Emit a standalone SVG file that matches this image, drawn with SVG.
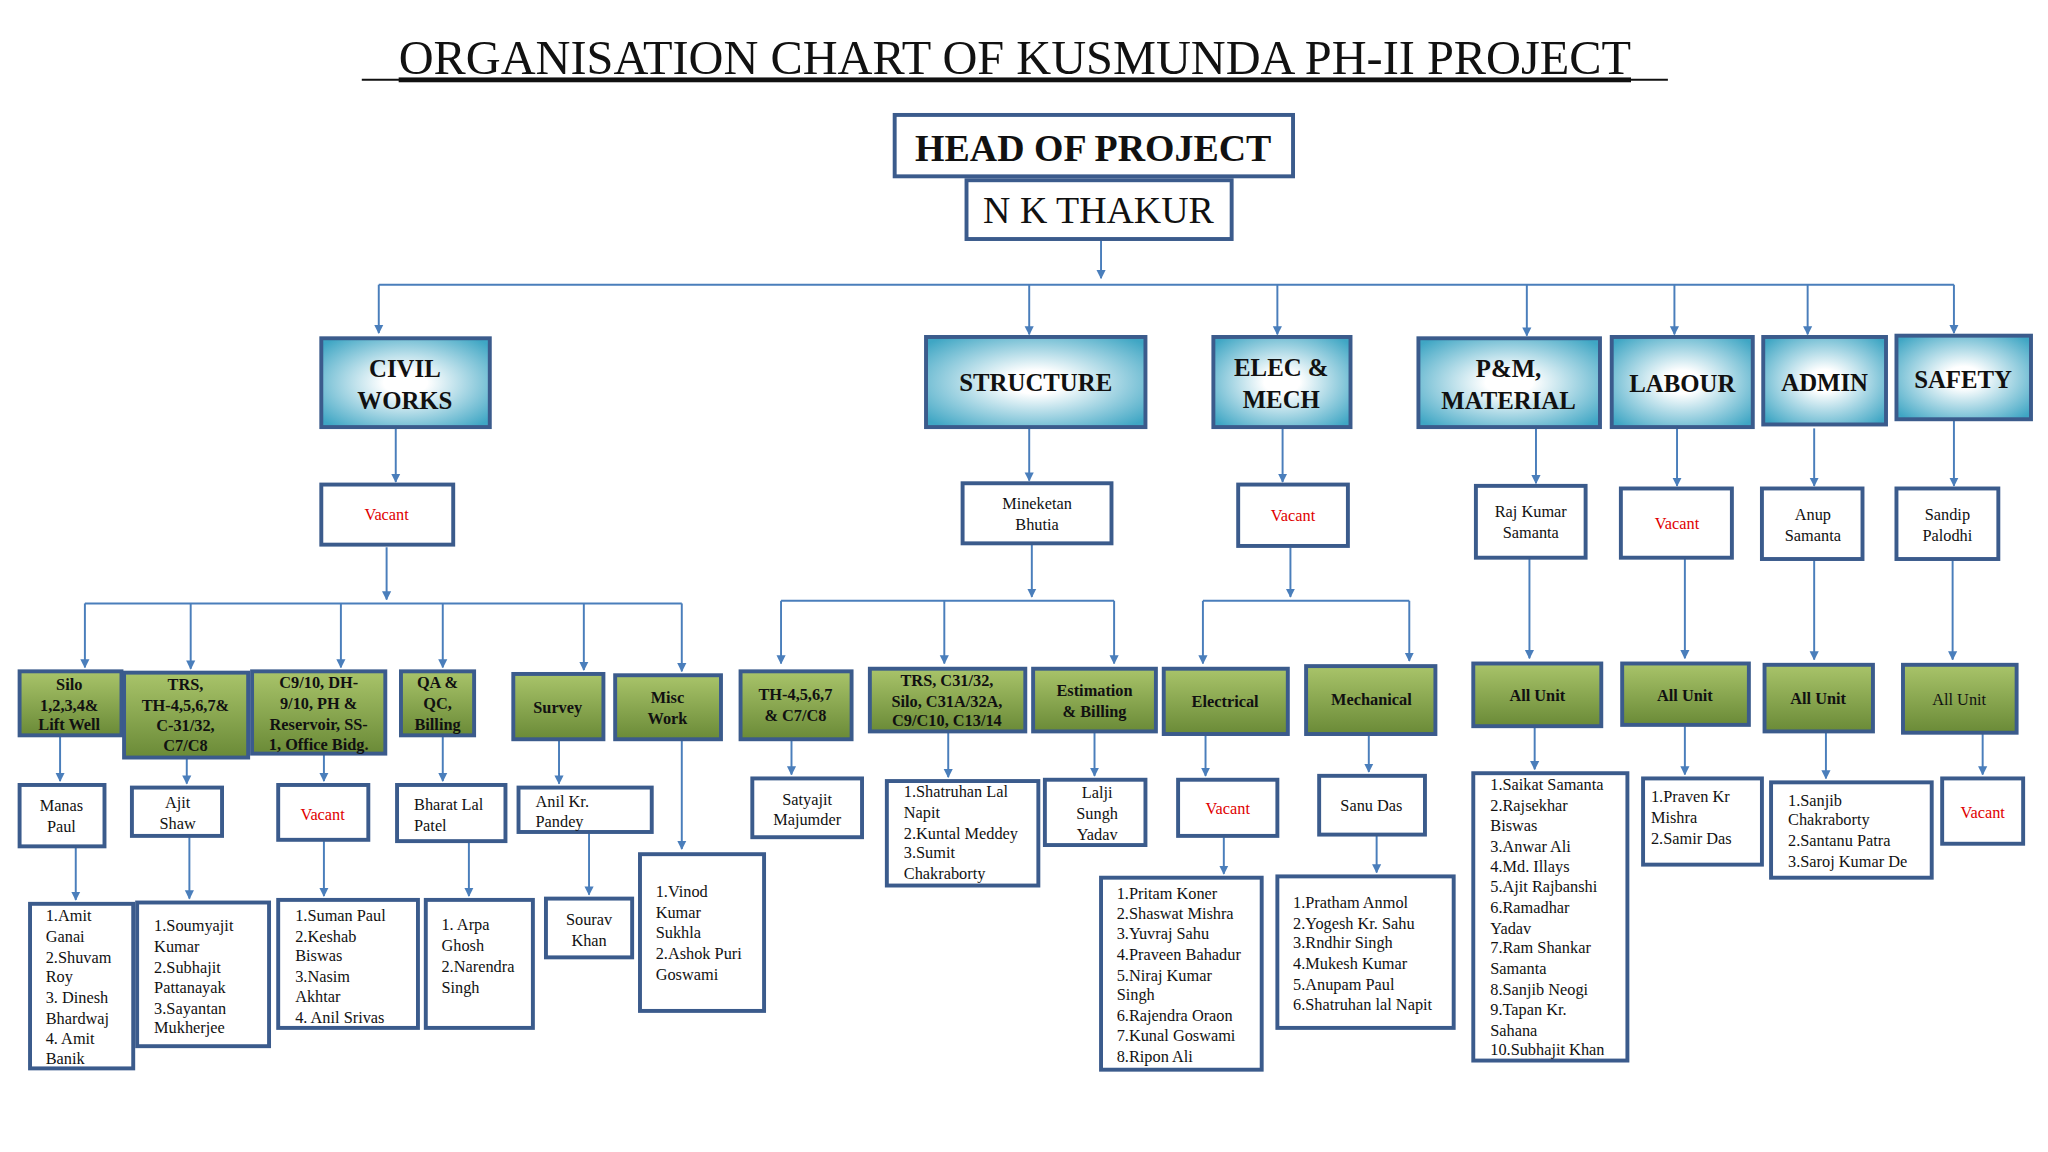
<svg xmlns="http://www.w3.org/2000/svg" width="2048" height="1152" viewBox="0 0 2048 1152">
<defs>
<radialGradient id="dg" cx="50%" cy="50%" r="65%"><stop offset="0.2" stop-color="#ffffff"/><stop offset="1" stop-color="#3fa6c4"/></radialGradient>
<linearGradient id="gg" x1="0" y1="0" x2="0" y2="1"><stop offset="0" stop-color="#a9c46a"/><stop offset="1" stop-color="#6a8a37"/></linearGradient>
<marker id="ar" viewBox="0 0 10 10" refX="9" refY="5" markerWidth="7" markerHeight="9" markerUnits="userSpaceOnUse" orient="auto"><path d="M0,0L10,5L0,10z" fill="#4a7ebb"/></marker>
</defs>
<style>
text{font-family:"Liberation Serif","Times New Roman",serif;fill:#111}
.b{stroke:#3b5b8c;stroke-width:3}
.d{fill:url(#dg)}
.g{fill:url(#gg)}
.w{fill:#fff}
.dt{font-size:19px;font-weight:bold;text-anchor:middle}
.gt{font-size:12.5px;font-weight:bold;text-anchor:middle}
.t{font-size:12.5px}
.c{text-anchor:middle}
.r{fill:#e00000}
.cn line,.cn polyline{stroke:#4a7ebb;stroke-width:1.5;fill:none}
.a{marker-end:url(#ar)}
</style>
<rect width="2048" height="1152" fill="#fff"/>
<g transform="scale(1.3061)">
<text x="777" y="57" font-size="37" text-anchor="middle" text-decoration="underline">ORGANISATION CHART OF KUSMUNDA PH-II PROJECT</text>
<line x1="277" y1="61" x2="1277" y2="61" stroke="#111" stroke-width="1.5"/>

<g class="cn">
<line class="a" x1="843" y1="184" x2="843" y2="213"/>
<line x1="290" y1="218" x2="1496" y2="218"/>
<line class="a" x1="290" y1="218" x2="290" y2="255"/>
<line class="a" x1="788" y1="218" x2="788" y2="256"/>
<line class="a" x1="978" y1="218" x2="978" y2="256"/>
<line class="a" x1="1169" y1="218" x2="1169" y2="257"/>
<line class="a" x1="1282" y1="218" x2="1282" y2="256"/>
<line class="a" x1="1384" y1="218" x2="1384" y2="256"/>
<line class="a" x1="1496" y1="218" x2="1496" y2="255"/>
<line class="a" x1="303" y1="328" x2="303" y2="369"/>
<line class="a" x1="788" y1="328" x2="788" y2="368"/>
<line class="a" x1="982" y1="328" x2="982" y2="369"/>
<line class="a" x1="1176" y1="328" x2="1176" y2="370"/>
<line class="a" x1="1284" y1="328" x2="1284" y2="372"/>
<line class="a" x1="1389" y1="328" x2="1389" y2="372"/>
<line class="a" x1="1496" y1="322" x2="1496" y2="372"/>
<line class="a" x1="296" y1="419" x2="296" y2="459"/>
<line x1="65" y1="462" x2="522" y2="462"/>
<line class="a" x1="65" y1="462" x2="65" y2="511"/>
<line class="a" x1="146" y1="462" x2="146" y2="512"/>
<line class="a" x1="261" y1="462" x2="261" y2="511"/>
<line class="a" x1="339" y1="462" x2="339" y2="511"/>
<line class="a" x1="447" y1="462" x2="447" y2="513"/>
<line class="a" x1="522" y1="462" x2="522" y2="514"/>
<line class="a" x1="790" y1="417" x2="790" y2="457"/>
<line x1="598" y1="460" x2="853" y2="460"/>
<line class="a" x1="598" y1="460" x2="598" y2="508"/>
<line class="a" x1="723" y1="460" x2="723" y2="508"/>
<line class="a" x1="853" y1="460" x2="853" y2="508"/>
<line class="a" x1="988" y1="419" x2="988" y2="457"/>
<line x1="921" y1="460" x2="1079" y2="460"/>
<line class="a" x1="921" y1="460" x2="921" y2="508"/>
<line class="a" x1="1079" y1="460" x2="1079" y2="506"/>
<line class="a" x1="1171" y1="428" x2="1171" y2="504"/>
<line class="a" x1="1290" y1="428" x2="1290" y2="504"/>
<line class="a" x1="1389" y1="429" x2="1389" y2="505"/>
<line class="a" x1="1495" y1="429" x2="1495" y2="505"/>
<line class="a" x1="46" y1="564" x2="46" y2="598"/>
<line class="a" x1="143" y1="581" x2="143" y2="600"/>
<line class="a" x1="248" y1="578" x2="248" y2="598"/>
<line class="a" x1="339" y1="564" x2="339" y2="598"/>
<line class="a" x1="428" y1="567" x2="428" y2="600"/>
<line class="a" x1="522" y1="567" x2="522" y2="650"/>
<line class="a" x1="606" y1="567" x2="606" y2="593"/>
<line class="a" x1="726" y1="561" x2="726" y2="595"/>
<line class="a" x1="838" y1="561" x2="838" y2="594"/>
<line class="a" x1="923" y1="563" x2="923" y2="594"/>
<line class="a" x1="1048" y1="563" x2="1048" y2="591"/>
<line class="a" x1="1175" y1="557" x2="1175" y2="589"/>
<line class="a" x1="1290" y1="556" x2="1290" y2="593"/>
<line class="a" x1="1398" y1="561" x2="1398" y2="596"/>
<line class="a" x1="1518" y1="562" x2="1518" y2="593"/>
<line class="a" x1="58" y1="649" x2="58" y2="689"/>
<line class="a" x1="145" y1="641" x2="145" y2="688"/>
<line class="a" x1="248" y1="644" x2="248" y2="686"/>
<line class="a" x1="359" y1="645" x2="359" y2="686"/>
<line class="a" x1="451" y1="638" x2="451" y2="685"/>
<line class="a" x1="937" y1="641" x2="937" y2="669"/>
<line class="a" x1="1054" y1="640" x2="1054" y2="668"/>
</g>

<g id="head"><rect class="b w" x="685" y="88" width="305" height="47"/><text x="837" y="123" font-size="29" font-weight="bold" text-anchor="middle">HEAD OF PROJECT</text></g>
<g id="nkthakur"><rect class="b w" x="740" y="138" width="203" height="45"/><text x="841" y="171" font-size="29" text-anchor="middle">N K THAKUR</text></g>

<g id="civil"><rect class="b d" x="246" y="259" width="129" height="68"/><text class="dt" x="310" y="289">CIVIL</text><text class="dt" x="310" y="313">WORKS</text></g>
<g id="structure"><rect class="b d" x="709" y="258" width="168" height="69"/><text class="dt" x="793" y="299">STRUCTURE</text></g>
<g id="elec"><rect class="b d" x="929" y="258" width="105" height="69"/><text class="dt" x="981" y="288">ELEC &amp;</text><text class="dt" x="981" y="312">MECH</text></g>
<g id="pm"><rect class="b d" x="1086" y="259" width="139" height="68"/><text class="dt" x="1155" y="289">P&amp;M,</text><text class="dt" x="1155" y="313">MATERIAL</text></g>
<g id="labour"><rect class="b d" x="1234" y="258" width="108" height="69"/><text class="dt" x="1288" y="300">LABOUR</text></g>
<g id="admin"><rect class="b d" x="1350" y="258" width="94" height="67"/><text class="dt" x="1397" y="299">ADMIN</text></g>
<g id="safety"><rect class="b d" x="1452" y="257" width="103" height="64"/><text class="dt" x="1503" y="297">SAFETY</text></g>

<g id="civil-vacant"><rect class="b w" x="246" y="371" width="101" height="46"/><text class="t c r" x="296" y="398">Vacant</text></g>
<g id="mineketan"><rect class="b w" x="737" y="370" width="114" height="46"/><text class="t c" x="794" y="390">Mineketan</text><text class="t c" x="794" y="406">Bhutia</text></g>
<g id="elec-vacant"><rect class="b w" x="948" y="371" width="84" height="47"/><text class="t c r" x="990" y="399">Vacant</text></g>
<g id="rajkumar"><rect class="b w" x="1130" y="372" width="84" height="55"/><text class="t c" x="1172" y="396">Raj Kumar</text><text class="t c" x="1172" y="412">Samanta</text></g>
<g id="labour-vacant"><rect class="b w" x="1241" y="374" width="85" height="53"/><text class="t c r" x="1284" y="405">Vacant</text></g>
<g id="anup"><rect class="b w" x="1349" y="374" width="77" height="54"/><text class="t c" x="1388" y="398">Anup</text><text class="t c" x="1388" y="414">Samanta</text></g>
<g id="sandip"><rect class="b w" x="1452" y="374" width="78" height="54"/><text class="t c" x="1491" y="398">Sandip</text><text class="t c" x="1491" y="414">Palodhi</text></g>

<g id="silo"><rect class="b g" x="15" y="514" width="78" height="49"/><text class="gt" x="53" y="528">Silo</text><text class="gt" x="53" y="544">1,2,3,4&amp;</text><text class="gt" x="53" y="559">Lift Well</text></g>
<g id="trs1"><rect class="b g" x="95" y="515" width="95" height="65"/><text class="gt" x="142" y="528">TRS,</text><text class="gt" x="142" y="544">TH-4,5,6,7&amp;</text><text class="gt" x="142" y="560">C-31/32,</text><text class="gt" x="142" y="575">C7/C8</text></g>
<g id="c910"><rect class="b g" x="193" y="514" width="102" height="63"/><text class="gt" x="244" y="527">C9/10, DH-</text><text class="gt" x="244" y="543">9/10, PH &amp;</text><text class="gt" x="244" y="559">Reservoir, SS-</text><text class="gt" x="244" y="574">1, Office Bidg.</text></g>
<g id="qa"><rect class="b g" x="307" y="514" width="56" height="49"/><text class="gt" x="335" y="527">QA &amp;</text><text class="gt" x="335" y="543">QC,</text><text class="gt" x="335" y="559">Billing</text></g>
<g id="survey"><rect class="b g" x="393" y="516" width="69" height="50"/><text class="gt" x="427" y="546">Survey</text></g>
<g id="misc"><rect class="b g" x="471" y="517" width="81" height="49"/><text class="gt" x="511" y="538">Misc</text><text class="gt" x="511" y="554">Work</text></g>
<g id="th4567"><rect class="b g" x="567" y="514" width="85" height="52"/><text class="gt" x="609" y="536">TH-4,5,6,7</text><text class="gt" x="609" y="552">&amp; C7/C8</text></g>
<g id="trs2"><rect class="b g" x="666" y="512" width="119" height="48"/><text class="gt" x="725" y="525">TRS, C31/32,</text><text class="gt" x="725" y="541">Silo, C31A/32A,</text><text class="gt" x="725" y="556">C9/C10, C13/14</text></g>
<g id="estimation"><rect class="b g" x="791" y="512" width="94" height="48"/><text class="gt" x="838" y="533">Estimation</text><text class="gt" x="838" y="549">&amp; Billing</text></g>
<g id="electrical"><rect class="b g" x="891" y="512" width="95" height="50"/><text class="gt" x="938" y="541">Electrical</text></g>
<g id="mechanical"><rect class="b g" x="1000" y="510" width="99" height="52"/><text class="gt" x="1050" y="540">Mechanical</text></g>
<g id="allunit1"><rect class="b g" x="1128" y="508" width="98" height="48"/><text class="gt" x="1177" y="537">All Unit</text></g>
<g id="allunit2"><rect class="b g" x="1242" y="508" width="97" height="47"/><text class="gt" x="1290" y="537">All Unit</text></g>
<g id="allunit3"><rect class="b g" x="1351" y="509" width="83" height="51"/><text class="gt" x="1392" y="539">All Unit</text></g>
<g id="allunit4"><rect class="b g" x="1457" y="509" width="87" height="52"/><text class="t c" x="1500" y="540">All Unit</text></g>

<g id="manas"><rect class="b w" x="15" y="601" width="65" height="47"/><text class="t c" x="47" y="621">Manas</text><text class="t c" x="47" y="637">Paul</text></g>
<g id="ajit"><rect class="b w" x="101" y="603" width="69" height="37"/><text class="t c" x="136" y="619">Ajit</text><text class="t c" x="136" y="635">Shaw</text></g>
<g id="c910-vacant"><rect class="b w" x="213" y="601" width="69" height="42"/><text class="t c r" x="247" y="628">Vacant</text></g>
<g id="bharat"><rect class="b w" x="304" y="601" width="83" height="43"/><text class="t" x="317" y="620">Bharat Lal</text><text class="t" x="317" y="636">Patel</text></g>
<g id="anil"><rect class="b w" x="397" y="603" width="102" height="34"/><text class="t" x="410" y="618">Anil Kr.</text><text class="t" x="410" y="633">Pandey</text></g>
<g id="satyajit"><rect class="b w" x="576" y="596" width="84" height="45"/><text class="t c" x="618" y="616">Satyajit</text><text class="t c" x="618" y="632">Majumder</text></g>
<g id="shatruhan"><rect class="b w" x="679" y="598" width="116" height="80"/><text class="t" x="692" y="610">1.Shatruhan Lal</text><text class="t" x="692" y="626">Napit</text><text class="t" x="692" y="642">2.Kuntal Meddey</text><text class="t" x="692" y="657">3.Sumit</text><text class="t" x="692" y="673">Chakraborty</text></g>
<g id="lalji"><rect class="b w" x="800" y="597" width="77" height="50"/><text class="t c" x="840" y="611">Lalji</text><text class="t c" x="840" y="627">Sungh</text><text class="t c" x="840" y="643">Yadav</text></g>
<g id="electrical-vacant"><rect class="b w" x="902" y="597" width="76" height="43"/><text class="t c r" x="940" y="623">Vacant</text></g>
<g id="sanu"><rect class="b w" x="1010" y="594" width="81" height="45"/><text class="t c" x="1050" y="621">Sanu Das</text></g>
<g id="saikat"><rect class="b w" x="1128" y="592" width="118" height="220"/><text class="t" x="1141" y="605">1.Saikat Samanta</text><text class="t" x="1141" y="621">2.Rajsekhar</text><text class="t" x="1141" y="636">Biswas</text><text class="t" x="1141" y="652">3.Anwar Ali</text><text class="t" x="1141" y="668">4.Md. Illays</text><text class="t" x="1141" y="683">5.Ajit Rajbanshi</text><text class="t" x="1141" y="699">6.Ramadhar</text><text class="t" x="1141" y="715">Yadav</text><text class="t" x="1141" y="730">7.Ram Shankar</text><text class="t" x="1141" y="746">Samanta</text><text class="t" x="1141" y="762">8.Sanjib Neogi</text><text class="t" x="1141" y="777">9.Tapan Kr.</text><text class="t" x="1141" y="793">Sahana</text><text class="t" x="1141" y="808">10.Subhajit Khan</text></g>
<g id="praven"><rect class="b w" x="1258" y="596" width="91" height="66"/><text class="t" x="1264" y="614">1.Praven Kr</text><text class="t" x="1264" y="630">Mishra</text><text class="t" x="1264" y="646">2.Samir Das</text></g>
<g id="sanjib"><rect class="b w" x="1356" y="599" width="123" height="73"/><text class="t" x="1369" y="617">1.Sanjib</text><text class="t" x="1369" y="632">Chakraborty</text><text class="t" x="1369" y="648">2.Santanu Patra</text><text class="t" x="1369" y="664">3.Saroj Kumar De</text></g>
<g id="safety-vacant"><rect class="b w" x="1487" y="596" width="62" height="50"/><text class="t c r" x="1518" y="626">Vacant</text></g>

<g id="amit"><rect class="b w" x="23" y="692" width="79" height="126"/><text class="t" x="35" y="705">1.Amit</text><text class="t" x="35" y="721">Ganai</text><text class="t" x="35" y="737">2.Shuvam</text><text class="t" x="35" y="752">Roy</text><text class="t" x="35" y="768">3. Dinesh</text><text class="t" x="35" y="784">Bhardwaj</text><text class="t" x="35" y="799">4. Amit</text><text class="t" x="35" y="815">Banik</text></g>
<g id="soumyajit"><rect class="b w" x="105" y="691" width="101" height="110"/><text class="t" x="118" y="713">1.Soumyajit</text><text class="t" x="118" y="729">Kumar</text><text class="t" x="118" y="745">2.Subhajit</text><text class="t" x="118" y="760">Pattanayak</text><text class="t" x="118" y="776">3.Sayantan</text><text class="t" x="118" y="791">Mukherjee</text></g>
<g id="suman"><rect class="b w" x="213" y="689" width="107" height="98"/><text class="t" x="226" y="705">1.Suman Paul</text><text class="t" x="226" y="721">2.Keshab</text><text class="t" x="226" y="736">Biswas</text><text class="t" x="226" y="752">3.Nasim</text><text class="t" x="226" y="767">Akhtar</text><text class="t" x="226" y="783">4. Anil Srivas</text></g>
<g id="arpa"><rect class="b w" x="326" y="689" width="82" height="98"/><text class="t" x="338" y="712">1. Arpa</text><text class="t" x="338" y="728">Ghosh</text><text class="t" x="338" y="744">2.Narendra</text><text class="t" x="338" y="760">Singh</text></g>
<g id="sourav"><rect class="b w" x="418" y="688" width="66" height="45"/><text class="t c" x="451" y="708">Sourav</text><text class="t c" x="451" y="724">Khan</text></g>
<g id="vinod"><rect class="b w" x="490" y="654" width="95" height="120"/><text class="t" x="502" y="687">1.Vinod</text><text class="t" x="502" y="703">Kumar</text><text class="t" x="502" y="718">Sukhla</text><text class="t" x="502" y="734">2.Ashok Puri</text><text class="t" x="502" y="750">Goswami</text></g>
<g id="pritam"><rect class="b w" x="843" y="672" width="123" height="147"/><text class="t" x="855" y="688">1.Pritam Koner</text><text class="t" x="855" y="704">2.Shaswat Mishra</text><text class="t" x="855" y="719">3.Yuvraj Sahu</text><text class="t" x="855" y="735">4.Praveen Bahadur</text><text class="t" x="855" y="751">5.Niraj Kumar</text><text class="t" x="855" y="766">Singh</text><text class="t" x="855" y="782">6.Rajendra Oraon</text><text class="t" x="855" y="797">7.Kunal Goswami</text><text class="t" x="855" y="813">8.Ripon Ali</text></g>
<g id="pratham"><rect class="b w" x="978" y="671" width="135" height="116"/><text class="t" x="990" y="695">1.Pratham Anmol</text><text class="t" x="990" y="711">2.Yogesh Kr. Sahu</text><text class="t" x="990" y="726">3.Rndhir Singh</text><text class="t" x="990" y="742">4.Mukesh Kumar</text><text class="t" x="990" y="758">5.Anupam Paul</text><text class="t" x="990" y="773">6.Shatruhan lal Napit</text></g>
</g>
</svg>
